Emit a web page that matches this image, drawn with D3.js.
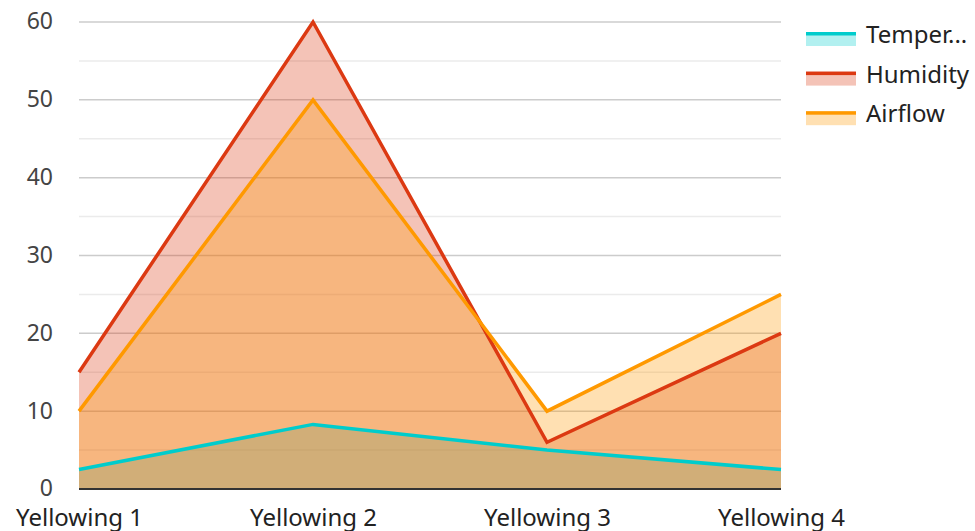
<!DOCTYPE html>
<html>
<head>
<meta charset="utf-8">
<script src="https://cdn.jsdelivr.net/npm/d3@7"></script>
<style>
  html, body { margin: 0; padding: 0; background: #fff; }
  svg { display: block; font-family: "Noto Sans", "Open Sans", sans-serif; }
</style>
</head>
<body>
<svg id="chart" width="975" height="531"></svg>
<script>
// Stages along the x axis
const categories = ["Yellowing 1", "Yellowing 2", "Yellowing 3", "Yellowing 4"];

// Series values per stage
const temperature = [2.5, 8.3, 5, 2.5];
const humidity = [15, 60, 6, 20];
const airflow = [10, 50, 10, 25];

const seriesNames = ["Temperature", "Humidity", "Airflow"];
const legendLabels = ["Temper...", "Humidity", "Airflow"];
const seriesColors = ["#00CCCC", "#DC3912", "#FF9900"];

const yMajorTicks = [0, 10, 20, 30, 40, 50, 60];
const yMinorTicks = [5, 15, 25, 35, 45, 55];

const series = [temperature, humidity, airflow].map((values, i) => ({
  name: seriesNames[i],
  label: legendLabels[i],
  color: seriesColors[i],
  values
}));

const svg = d3.select("#chart");
const margin = { left: 79, right: 194, top: 22, bottom: 42 };
const width = 975, height = 531;

const x = d3.scalePoint().domain(categories).range([margin.left, width - margin.right]).padding(0);
const y = d3.scaleLinear().domain([0, 60]).range([height - margin.bottom, margin.top]);

// Gridlines
svg.append("g").selectAll("line").data(yMinorTicks).join("line")
  .attr("x1", margin.left).attr("x2", width - margin.right)
  .attr("y1", d => y(d)).attr("y2", d => y(d))
  .attr("stroke", "#ebebeb").attr("stroke-width", 1.5);
svg.append("g").selectAll("line").data(yMajorTicks.filter(d => d !== 0)).join("line")
  .attr("x1", margin.left).attr("x2", width - margin.right)
  .attr("y1", d => y(d)).attr("y2", d => y(d))
  .attr("stroke", "#cccccc").attr("stroke-width", 1.5);

// Areas
const area = d3.area()
  .x((d, i) => x(categories[i]))
  .y0(y(0))
  .y1(d => y(d));
const line = d3.line()
  .x((d, i) => x(categories[i]))
  .y(d => y(d));

svg.append("g").selectAll("path").data(series).join("path")
  .attr("d", d => area(d.values))
  .attr("fill", d => d.color)
  .attr("fill-opacity", 0.3);

// Baseline
svg.append("line")
  .attr("x1", margin.left).attr("x2", width - margin.right)
  .attr("y1", y(0)).attr("y2", y(0))
  .attr("stroke", "#333333").attr("stroke-width", 2);

// Lines
svg.append("g").selectAll("path").data(series).join("path")
  .attr("d", d => line(d.values))
  .attr("fill", "none")
  .attr("stroke", d => d.color)
  .attr("stroke-width", 3.5)
  .attr("stroke-linejoin", "miter");

// Y axis labels
const yAxis = d3.axisLeft(y).tickValues(yMajorTicks).tickSize(0).tickPadding(26);
const gy = svg.append("g").attr("transform", `translate(${margin.left},0)`).call(yAxis);
gy.select(".domain").remove();
gy.selectAll("text")
  .attr("fill", "#444444")
  .attr("dy", "0.3em")
  .style("font-size", "23px")
  .style("font-family", "'Noto Sans', 'Open Sans', sans-serif");

// X axis labels
const xAxis = d3.axisBottom(x).tickSize(0).tickPadding(0);
const gx = svg.append("g").attr("transform", `translate(0,${y(0)})`).call(xAxis);
gx.select(".domain").remove();
gx.selectAll("text")
  .attr("fill", "#222222")
  .attr("y", 37)
  .attr("dy", 0)
  .style("font-size", "24px")
  .style("font-family", "'Noto Sans', 'Open Sans', sans-serif");

// Legend
const legend = svg.append("g").attr("transform", "translate(806,32)");
const rows = legend.selectAll("g").data(series).join("g")
  .attr("transform", (d, i) => `translate(0,${i * 39.6})`);
rows.append("rect")
  .attr("x", 0).attr("y", 0).attr("width", 50).attr("height", 14)
  .attr("fill", d => d.color).attr("fill-opacity", 0.3);
rows.append("rect")
  .attr("x", 0).attr("y", 0).attr("width", 50).attr("height", 3.5)
  .attr("fill", d => d.color);
rows.append("text")
  .attr("x", 60).attr("y", 11)
  .attr("fill", "#222222")
  .style("font-size", "24px")
  .text(d => d.label);
</script>
</body>
</html>
